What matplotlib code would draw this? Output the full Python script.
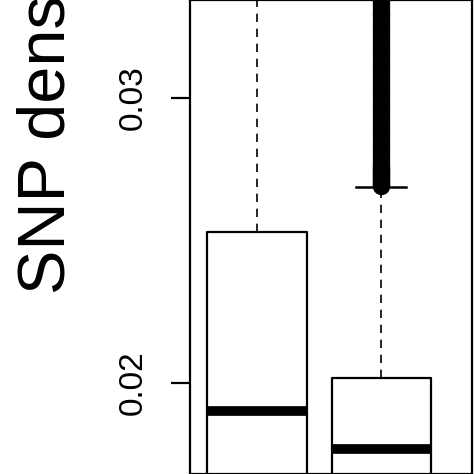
import matplotlib
matplotlib.use("Agg")
import matplotlib.pyplot as plt
plt.rcParams['font.family'] = ['Liberation Sans', 'DejaVu Sans']

groups = [1, 2]
q1 = [0.0160, 0.0155]
med = [0.01902, 0.01768]
q3 = [0.0253, 0.02018]
whislo = [0.0100, 0.0110]
whishi = [0.0400, 0.02688]
fliers2 = [0.0269, 0.02695, 0.0270, 0.02705, 0.0271, 0.02715, 0.0272, 0.02725, 0.0273, 0.02735,
           0.0274, 0.02745, 0.0275, 0.02755, 0.0276, 0.0277, 0.0278, 0.0279,
           0.0280, 0.0281, 0.0282, 0.0283, 0.0284, 0.0285, 0.0286, 0.0287, 0.0288, 0.0289,
           0.0290, 0.0291, 0.0292, 0.0293, 0.0294, 0.0295, 0.0296, 0.0297, 0.0298, 0.0299,
           0.0300, 0.0301, 0.0302, 0.0303, 0.0304, 0.0305, 0.0306, 0.0307, 0.0308, 0.0309,
           0.0310, 0.0311, 0.0312, 0.0313, 0.0314, 0.0315, 0.0316, 0.0317, 0.0318, 0.0319,
           0.0320, 0.0321, 0.0322, 0.0323, 0.0324, 0.0325, 0.0326, 0.0327, 0.0328, 0.0329,
           0.0330, 0.0331, 0.0332, 0.0333, 0.0334, 0.0335, 0.0336]
fliers = [[], fliers2]
yticks = [0.02, 0.03]

fig = plt.figure(figsize=(4.74, 4.74), dpi=100)
ax = fig.add_axes([190/474, 0, (472-190)/474, 1])
stats = [dict(q1=q1[i], med=med[i], q3=q3[i], whislo=whislo[i], whishi=whishi[i],
              fliers=fliers[i]) for i in range(2)]
ax.bxp(stats, positions=groups, widths=0.8, patch_artist=False,
       boxprops=dict(color='black', lw=1.6),
       medianprops=dict(color='black', lw=7, solid_capstyle='butt'),
       whiskerprops=dict(color='black', lw=1.2, linestyle=(0, (5, 4))),
       capprops=dict(color='black', lw=1.8),
       flierprops=dict(marker='o', markerfacecolor='none', markeredgecolor='black',
                       markersize=10, markeredgewidth=2.5))
for s in ax.spines.values():
    s.set_linewidth(1.6)
ax.set_xlim(0.46, 2.73)
ax.set_ylim(0.01681, 0.03344)
ax.set_xticks([])
ax.set_yticks(yticks)
ax.set_yticklabels(['0.02', '0.03'], rotation=90, va='center', fontsize=24)
ax.tick_params(axis='y', length=14, width=1.6, pad=16)
fig.text(48/474, 0.38, 'SNP density', rotation=90, fontsize=48, ha='center', va='bottom')
fig.savefig('out.png', dpi=100)
